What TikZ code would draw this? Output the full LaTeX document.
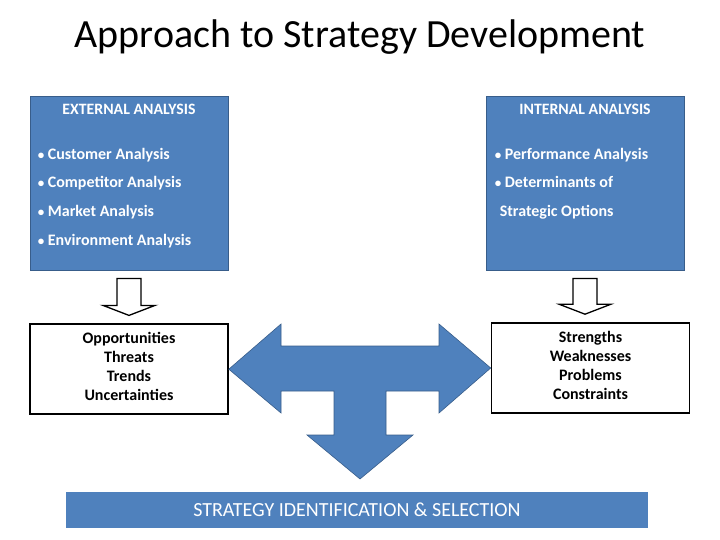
\documentclass[tikz,border=0pt]{standalone}
\usepackage{fontspec}
\setmainfont{Carlito}
\usepackage{tikz}
\usetikzlibrary{positioning, calc}
\definecolor{officeblue}{HTML}{4F81BD}
\definecolor{officeline}{HTML}{385D8A}
\newcommand{\bul}{{\fontsize{13}{28.7}\selectfont•}}

\begin{document}
\begin{tikzpicture}[x=1pt, y=-1pt,
  bluebox/.style={draw=officeline, line width=0.8pt, fill=officeblue, minimum width=198pt, minimum height=174pt, inner sep=0pt},
  whitebox/.style={draw=black, line width=1.6pt, fill=white, minimum width=198pt, minimum height=90pt},
  boxtxt/.style={align=center, inner sep=0pt, font=\bfseries\fontsize{16}{19}\selectfont},
  headtxt/.style={text=white, inner sep=0pt, font=\bfseries\fontsize{15.8}{18}\selectfont},
  listtxt/.style={text=white, align=left, inner sep=0pt, font=\bfseries\fontsize{16}{28.7}\selectfont},
  hollow/.style={draw=black, line width=1.3pt, fill=white, line join=miter},
  bigarrow/.style={draw=officeline, line width=0.6pt, fill=officeblue, line join=miter}]
\useasboundingbox (0,0) rectangle (720,540);
% Title
\node (title) at (360,37) {\fontsize{40}{48}\selectfont Approach to Strategy Development};

% Analysis boxes
\node[bluebox] (ext) at (129,183) {};
\node[bluebox] (int) at (585,183) {};
\node[headtxt] (exthead) at ($(ext.north)+(0,14)$) {EXTERNAL ANALYSIS};
\node[headtxt] (inthead) at ($(int.north)+(0,14)$) {INTERNAL ANALYSIS};
\node[listtxt, anchor=north west] (extlist) at ($(ext.north west)+(8,52)$)
  {\bul\ Customer Analysis\\ \bul\ Competitor Analysis\\ \bul\ Market Analysis\\ \bul\ Environment Analysis};
\node[listtxt, anchor=north west] (intlist) at ($(int.north west)+(9,52)$)
  {\bul\ Performance Analysis\\ \bul\ Determinants of\\ \hspace{5pt}Strategic Options};

% Outcome boxes
\node[whitebox, below=53pt of ext] (opp) {};
\node[whitebox] (str) at (590.5,368) {};
\node[boxtxt] (opptxt) at ($(opp.center)+(0,-3)$) {Opportunities\\Threats\\Trends\\Uncertainties};
\node[boxtxt] (strtxt) at ($(str.center)+(0,-3)$) {Strengths\\Weaknesses\\Problems\\Constraints};

% Hollow arrows
\foreach \a/\b in {ext/opp, int/str} {
  \draw[hollow] ($(\a.south)+(-12,8)$) -- ($(\a.south)+(12,8)$)
    -- ($(\b.north -| \a.south)+(12,-18)$) -- ($(\b.north -| \a.south)+(26,-18)$)
    -- ($(\b.north -| \a.south)+(0,-8)$) -- ($(\b.north -| \a.south)+(-26,-18)$)
    -- ($(\b.north -| \a.south)+(-12,-18)$) -- cycle;
}

% T arrow
\draw[bigarrow] (opp.east) -- (281,324) -- (281,346) -- (439,346) -- (439,324)
  -- (str.west) -- (439,413) -- (439,391) -- (386,391) -- (386,435) -- (413,435)
  -- (360,479) -- (307,435) -- (334,435) -- (334,391) -- (281,391) -- (281,413) -- cycle;

% Selection bar
\node[fill=officeblue, minimum width=582pt, minimum height=36pt, inner sep=0pt, text=white,
  font=\fontsize{20}{24}\selectfont] (sel) at (357,510) {STRATEGY IDENTIFICATION \& SELECTION};
\end{tikzpicture}
\end{document}
